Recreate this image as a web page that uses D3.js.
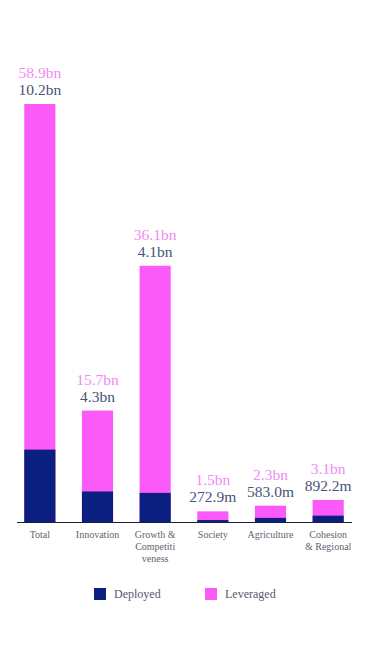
<!DOCTYPE html>
<html><head><meta charset="utf-8">
<script src="https://cdn.jsdelivr.net/npm/d3@7"></script>
<style>body{margin:0;background:#fff;}</style>
</head><body>
<svg id="chart" width="369" height="661"></svg>
<script>
const categories = ["Total","Innovation","Growth & Competitiveness","Society","Agriculture","Cohesion & Regional"];
const categoryLines = [["Total"],["Innovation"],["Growth &","Competiti","veness"],["Society"],["Agriculture"],["Cohesion","& Regional"]];
const deployed = [10.2, 4.3, 4.1, 0.2729, 0.583, 0.8922];
const leveraged = [58.9, 15.7, 36.1, 1.5, 2.3, 3.1];
const deployedLabels = ["10.2bn","4.3bn","4.1bn","272.9m","583.0m","892.2m"];
const leveragedLabels = ["58.9bn","15.7bn","36.1bn","1.5bn","2.3bn","3.1bn"];
const seriesNames = ["Deployed","Leveraged"];

const colors = {Deployed:"#0b1f80", Leveraged:"#fb5af9"};
const svg = d3.select("#chart");
const baseY = 522, topY = 104;
const x = d3.scaleBand().domain(categories).range([11,357]).paddingInner(0.46).paddingOuter(0.23);
const y = d3.scaleLinear().domain([0, 58.9]).range([baseY, topY]);
const font = "'Liberation Serif', 'DejaVu Serif', serif";

const g = svg.append("g");
g.selectAll(".lev").data(categories).join("rect")
  .attr("x", d=>x(d)).attr("width", x.bandwidth())
  .attr("y", (d,i)=>y(leveraged[i])).attr("height", (d,i)=>baseY - y(leveraged[i]))
  .attr("fill", colors.Leveraged);
g.selectAll(".dep").data(categories).join("rect")
  .attr("x", d=>x(d)).attr("width", x.bandwidth())
  .attr("y", (d,i)=>y(deployed[i])).attr("height", (d,i)=>baseY - y(deployed[i]))
  .attr("fill", colors.Deployed);

// value labels
g.selectAll(".dl").data(categories).join("text")
  .attr("x", d=>x(d)+x.bandwidth()/2).attr("y", (d,i)=>y(leveraged[i]) - 9)
  .attr("text-anchor","middle").attr("font-family",font).attr("font-size",15.5)
  .attr("fill","#48537a").text((d,i)=>deployedLabels[i]);
g.selectAll(".ll").data(categories).join("text")
  .attr("x", d=>x(d)+x.bandwidth()/2).attr("y", (d,i)=>y(leveraged[i]) - 26)
  .attr("text-anchor","middle").attr("font-family",font).attr("font-size",15.5)
  .attr("fill","#f28af4").text((d,i)=>leveragedLabels[i]);

// axis
const axis = svg.append("g").attr("transform",`translate(0,${baseY})`)
  .call(d3.axisBottom(x).tickSize(0).tickFormat(""));
axis.select(".domain").attr("stroke","#1a1f3a").attr("stroke-width",1.2).attr("d","M17,0.5H352");
axis.selectAll(".tick").each(function(d,i){
  const t = d3.select(this).append("text").attr("fill","#60646e")
    .attr("font-family",font).attr("font-size",10).attr("text-anchor","middle");
  categoryLines[i].forEach((ln,j)=>{
    t.append("tspan").attr("x",0).attr("y",16 + j*12).text(ln);
  });
});

// legend
const legend = svg.append("g");
const lx = [94, 205];
seriesNames.forEach((s,i)=>{
  legend.append("rect").attr("x",lx[i]).attr("y",588).attr("width",12).attr("height",12).attr("fill",colors[s]);
  legend.append("text").attr("x",lx[i]+20).attr("y",598).attr("font-family",font).attr("font-size",12)
    .attr("fill","#525a6b").text(s);
});
</script>
</body></html>
